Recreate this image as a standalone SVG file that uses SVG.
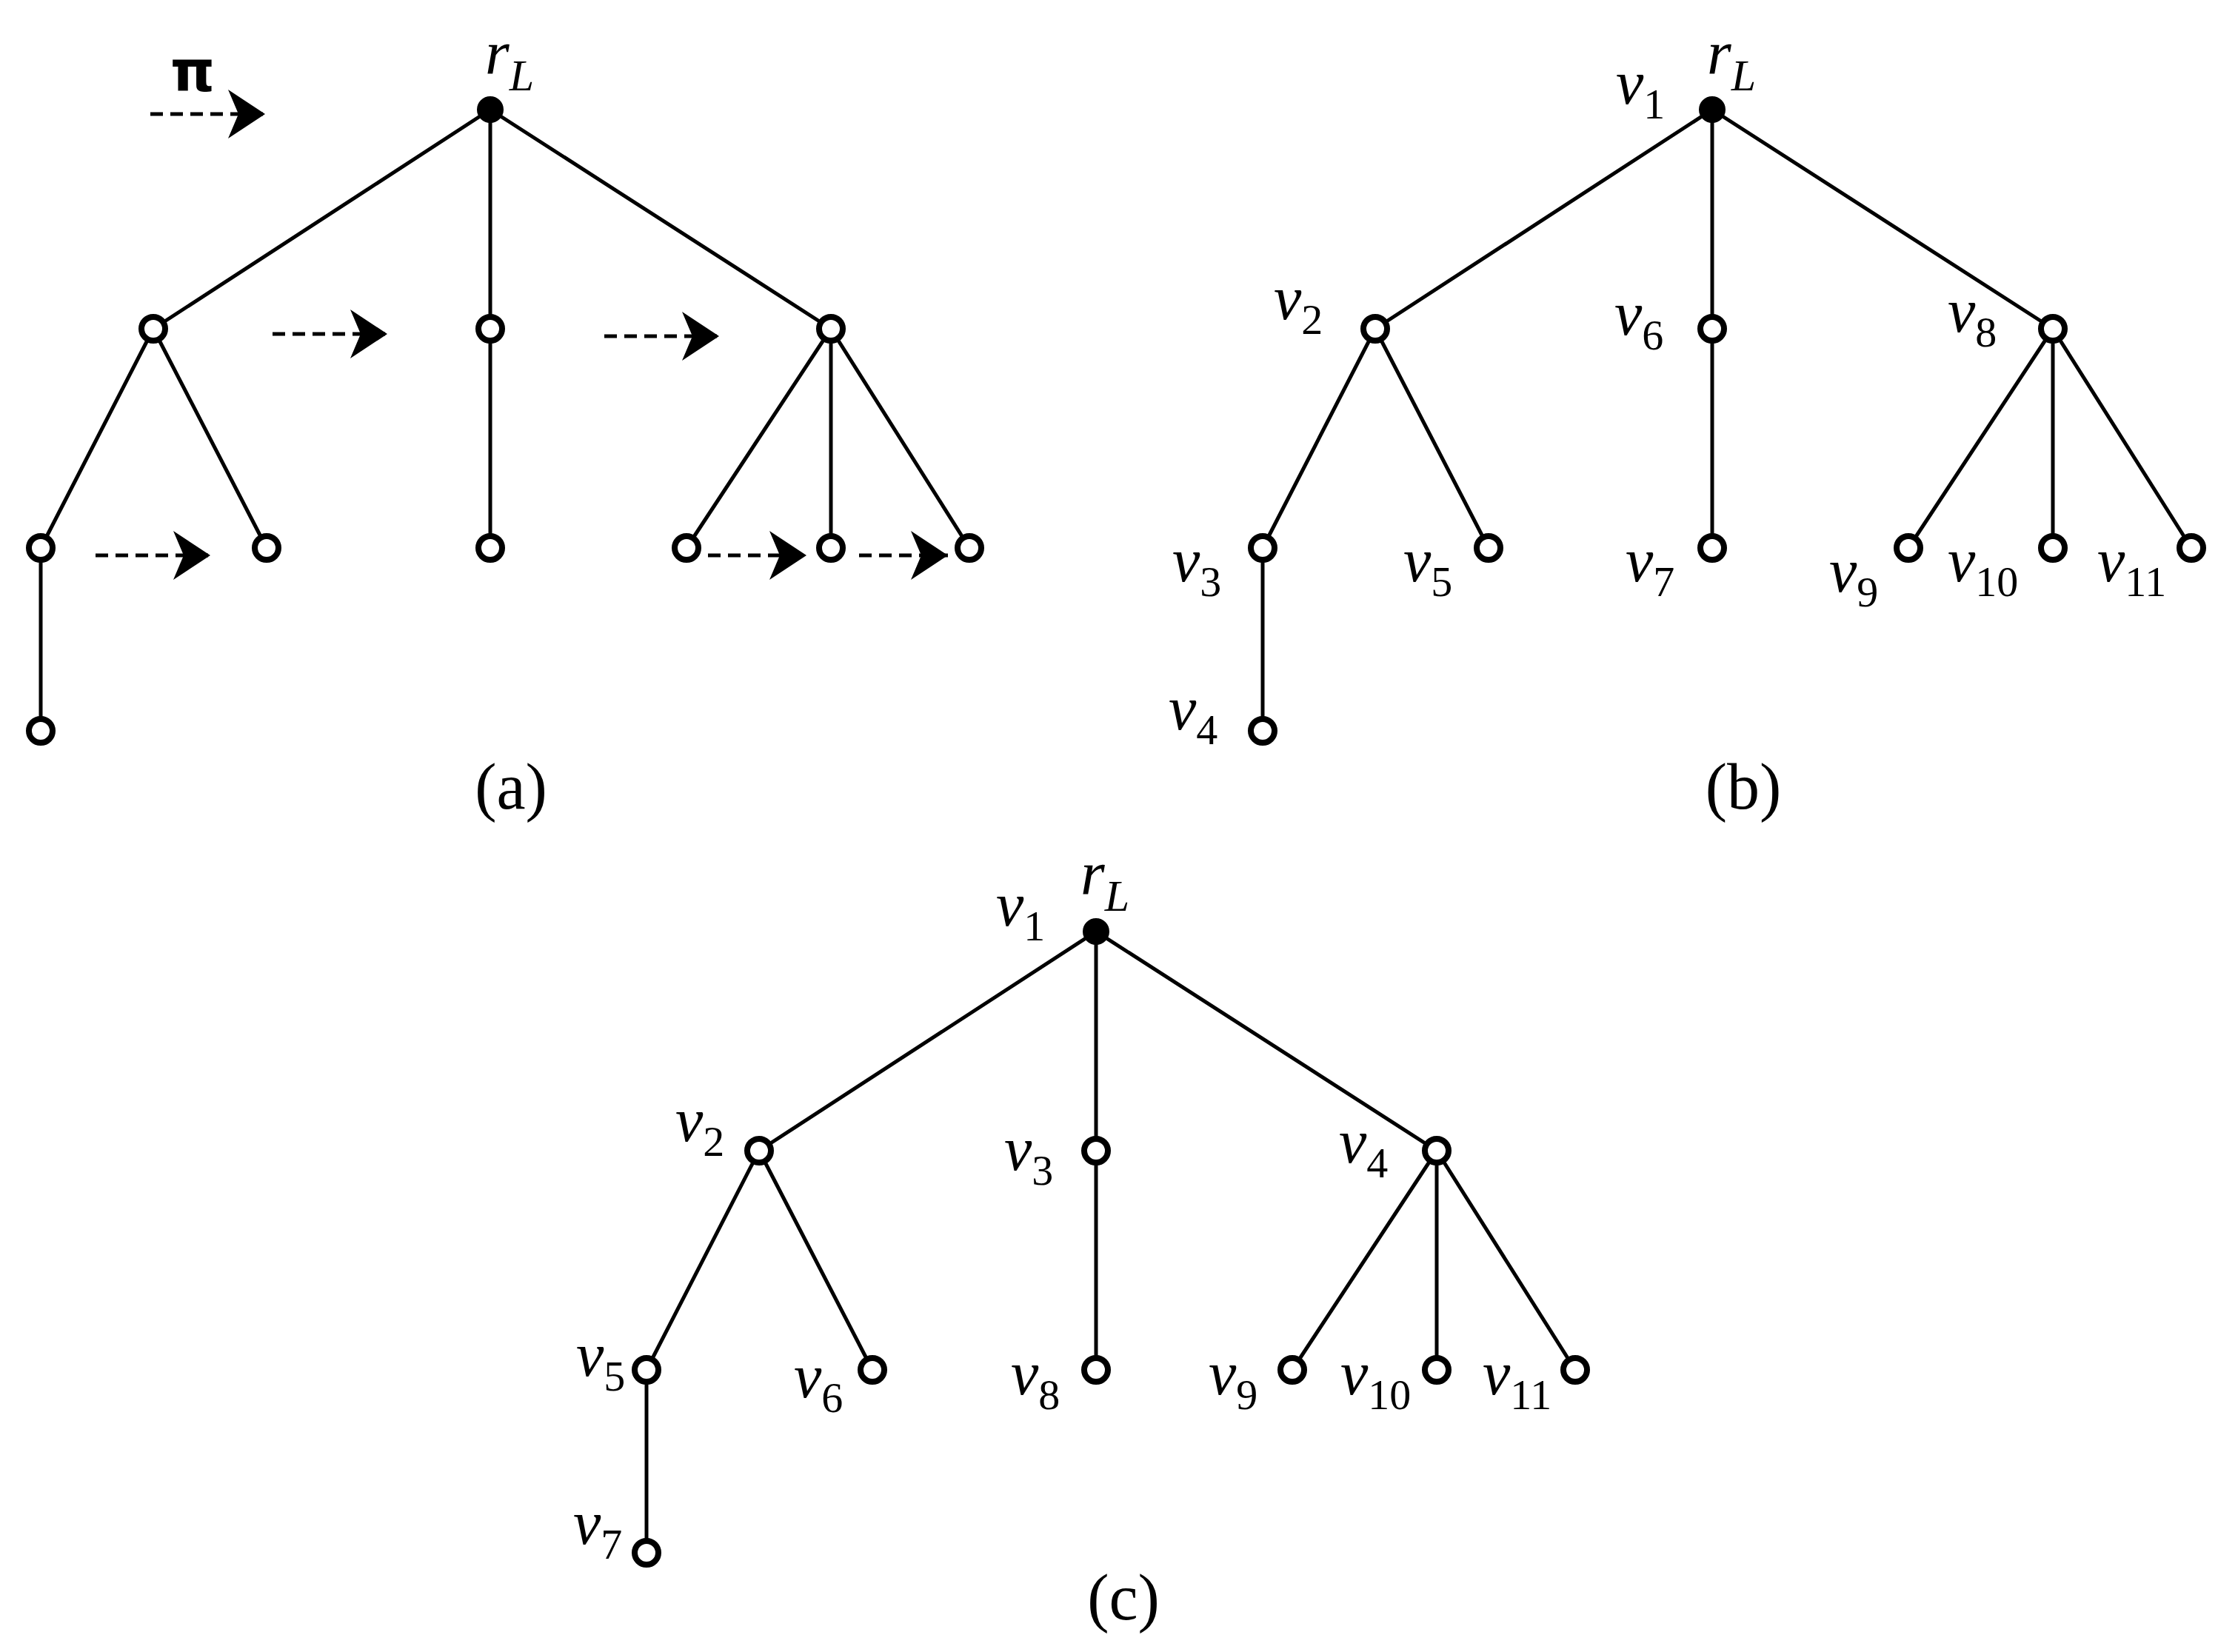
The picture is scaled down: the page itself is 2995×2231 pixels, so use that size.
<svg xmlns="http://www.w3.org/2000/svg" width="2995" height="2231" viewBox="0 0 2995 2231">
<style>
.e{stroke:#000;stroke-width:5;fill:none}
.n{fill:#fff;stroke:#000;stroke-width:8}
.r{fill:#000;stroke:#000;stroke-width:4}
.d{stroke:#000;stroke-width:5;stroke-dasharray:17 10;fill:none}
.t{font-family:"Liberation Serif",serif;font-style:italic;font-size:84px}
.s{font-family:"Liberation Serif",serif;font-style:normal;font-size:58px}
.c{font-family:"Liberation Serif",serif;font-size:88px;text-anchor:middle}
</style>
<defs>
<marker id="ah" markerUnits="userSpaceOnUse" markerWidth="60" markerHeight="70" refX="50" refY="33" orient="auto">
<path d="M0,0 L50,33 L0,66 L14,33 Z" fill="#000"/>
</marker>
<g id="tree">
<g class="conn">
<path class="e" d="M662,148 L207,444 M662,148 L662,444 M662,148 L1122,444 M207,444 L55,740 M207,444 L360,740 M662,444 L662,740 M1122,444 L927,740 M1122,444 L1122,740 M1122,444 L1309,740 M55,740 L55,987"/>
</g>
<circle class="r" cx="662" cy="148" r="16"/>
<circle class="n" cx="207" cy="444" r="16"/>
<circle class="n" cx="662" cy="444" r="16"/>
<circle class="n" cx="1122" cy="444" r="16"/>
<circle class="n" cx="55" cy="740" r="16"/>
<circle class="n" cx="360" cy="740" r="16"/>
<circle class="n" cx="662" cy="740" r="16"/>
<circle class="n" cx="927" cy="740" r="16"/>
<circle class="n" cx="1122" cy="740" r="16"/>
<circle class="n" cx="1309" cy="740" r="16"/>
<circle class="n" cx="55" cy="987" r="16"/>
</g>
</defs>
<rect width="2995" height="2231" fill="#fff"/>
<g id="tree-a"><use href="#tree"/></g>
<g id="tree-b"><use href="#tree" transform="translate(1650,0)"/></g>
<g id="tree-c"><use href="#tree" transform="translate(818,1110)"/></g>
<g id="arrows">
<path class="d" marker-end="url(#ah)" d="M203,154 H358"/>
<path class="d" marker-end="url(#ah)" d="M368,451 H523"/>
<path class="d" marker-end="url(#ah)" d="M816,454 H971"/>
<path class="d" marker-end="url(#ah)" d="M129,750 H284"/>
<path class="d" marker-end="url(#ah)" d="M956,750 H1089"/>
<path class="d" marker-end="url(#ah)" d="M1160,750 H1280"/>
</g>
<g id="labels-a">
<text x="230" y="123" font-family="DejaVu Sans, sans-serif" font-size="76" font-weight="bold">π</text>
<text class="t" x="655" y="100">r<tspan font-size="60" dy="22">L</tspan></text>
<text class="c" x="690" y="1092">(a)</text>
</g>
<g id="labels-b">
<text class="t" x="2305" y="100">r<tspan font-size="60" dy="22">L</tspan></text>
<text class="t" x="2182" y="140">v<tspan class="s" dy="20">1</tspan></text>
<text class="t" x="1720" y="431">v<tspan class="s" dy="20">2</tspan></text>
<text class="t" x="2180" y="452">v<tspan class="s" dy="20">6</tspan></text>
<text class="t" x="2630" y="448">v<tspan class="s" dy="20">8</tspan></text>
<text class="t" x="1583" y="785">v<tspan class="s" dy="20">3</tspan></text>
<text class="t" x="1895" y="785">v<tspan class="s" dy="20">5</tspan></text>
<text class="t" x="2195" y="785">v<tspan class="s" dy="20">7</tspan></text>
<text class="t" x="2470" y="799">v<tspan class="s" dy="20">9</tspan></text>
<text class="t" x="2630" y="785">v<tspan class="s" dy="20">10</tspan></text>
<text class="t" x="2832" y="785">v<tspan class="s" dy="20">11</tspan></text>
<text class="t" x="1578" y="985">v<tspan class="s" dy="20">4</tspan></text>
<text class="c" x="2354" y="1092">(b)</text>
</g>
<g id="labels-c">
<text class="t" x="1459" y="1208">r<tspan font-size="60" dy="22">L</tspan></text>
<text class="t" x="1345" y="1250">v<tspan class="s" dy="20">1</tspan></text>
<text class="t" x="912" y="1541">v<tspan class="s" dy="20">2</tspan></text>
<text class="t" x="1356" y="1580">v<tspan class="s" dy="20">3</tspan></text>
<text class="t" x="1808" y="1570">v<tspan class="s" dy="20">4</tspan></text>
<text class="t" x="778" y="1858">v<tspan class="s" dy="20">5</tspan></text>
<text class="t" x="1072" y="1887">v<tspan class="s" dy="20">6</tspan></text>
<text class="t" x="1365" y="1883">v<tspan class="s" dy="20">8</tspan></text>
<text class="t" x="1632" y="1883">v<tspan class="s" dy="20">9</tspan></text>
<text class="t" x="1810" y="1883">v<tspan class="s" dy="20">10</tspan></text>
<text class="t" x="2002" y="1883">v<tspan class="s" dy="20">11</tspan></text>
<text class="t" x="774" y="2085">v<tspan class="s" dy="20">7</tspan></text>
<text class="c" x="1517" y="2187">(c)</text>
</g>
</svg>
